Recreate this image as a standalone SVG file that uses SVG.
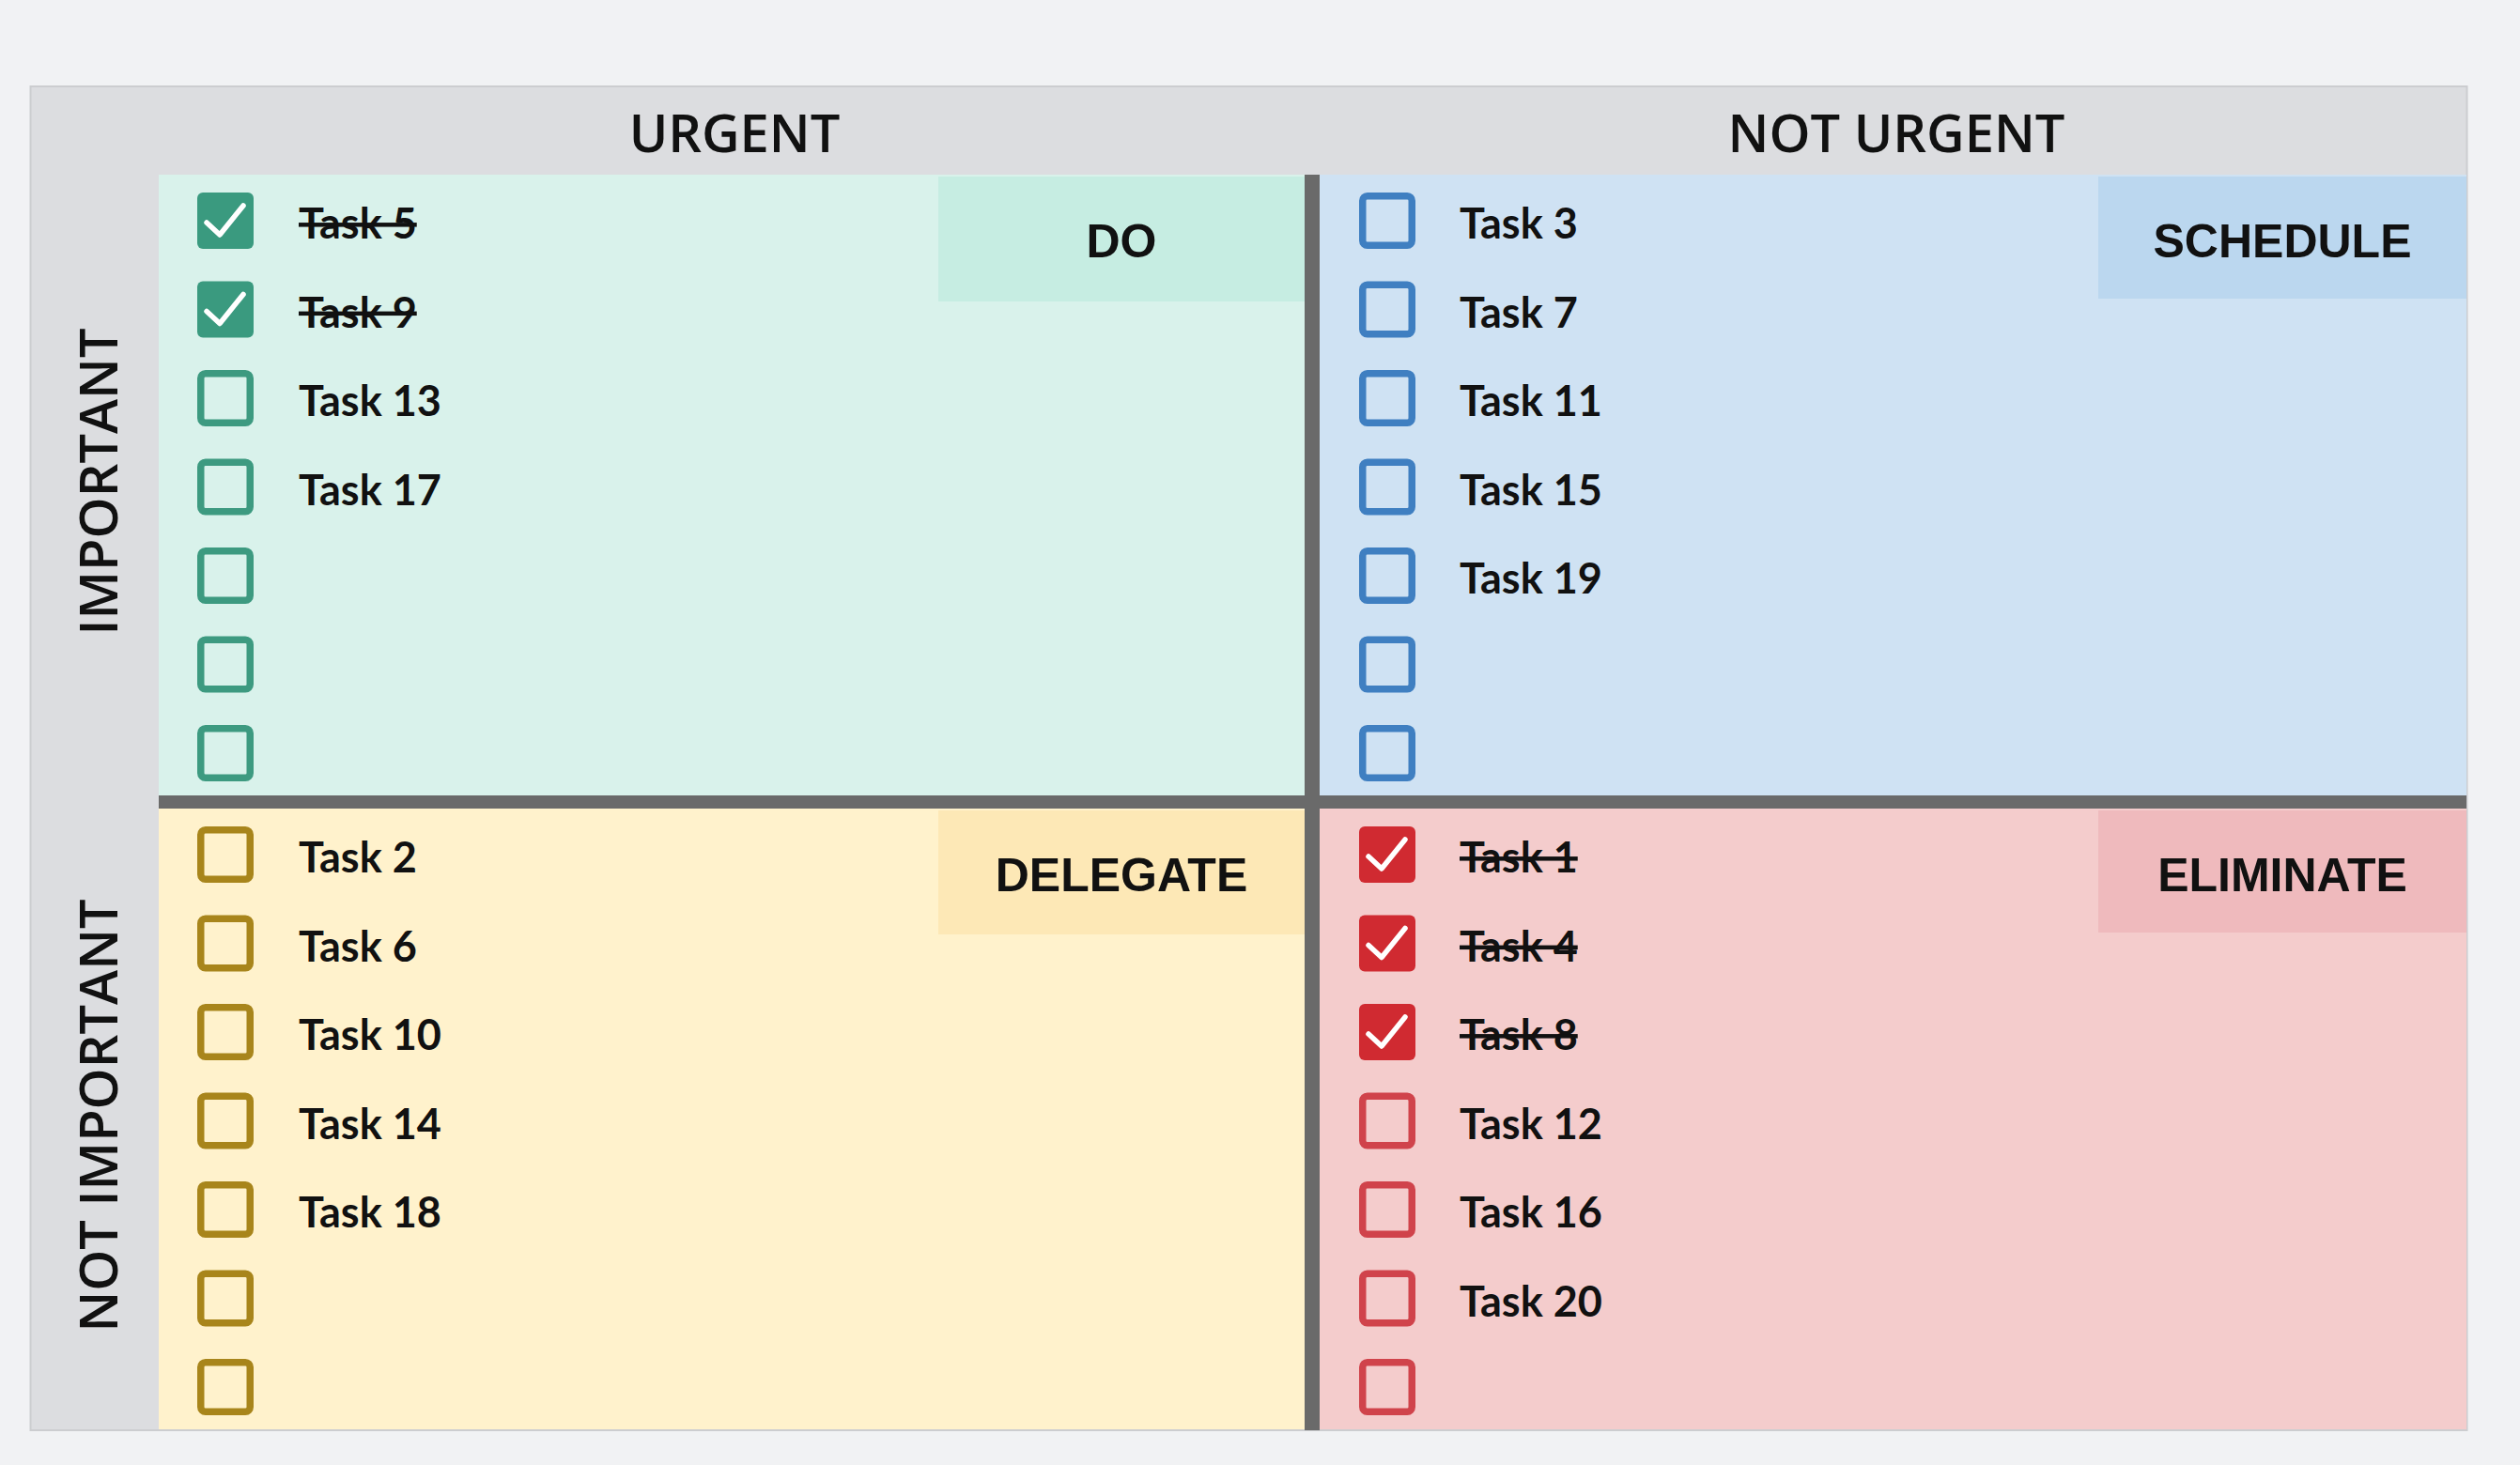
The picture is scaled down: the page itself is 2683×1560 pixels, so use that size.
<svg xmlns="http://www.w3.org/2000/svg" width="2683" height="1560" viewBox="0 0 2683 1560">
  <style>
    .hdr { font-family: "Open Sans", "Liberation Sans", sans-serif; font-weight: 600; font-size: 56px; fill: #111111; text-anchor: middle; }
    .lbl { font-family: "Liberation Sans", Arial, sans-serif; font-weight: 700; font-size: 50px; fill: #111111; text-anchor: middle; }
    .task { font-family: Lato, "Liberation Sans", sans-serif; font-weight: 700; font-size: 45px; fill: #111111; }
    .done { text-decoration: line-through; }
    .box { stroke-width: 7.5; }
    .g-box { fill: none; stroke: #3d9a80; }
    .b-box { fill: none; stroke: #3f7fc1; }
    .y-box { fill: none; stroke: #a8851b; }
    .r-box { fill: none; stroke: #d0434b; }
    .g-fill { fill: #3a9a7f; }
    .r-fill { fill: #d02a31; }
    .tick { fill: none; stroke: #ffffff; stroke-width: 5.5; stroke-linecap: round; stroke-linejoin: round; }
    .divider { fill: #6a6a6a; }
  </style>
  <defs>
    <rect id="ubox" x="3.75" y="3.75" width="52.5" height="52.5" rx="5" class="box"/>
    <g id="cbox">
      <rect x="0" y="0" width="60" height="60" rx="6"/>
      <path class="tick" d="M10 32 L24 45 L49 14"/>
    </g>
  </defs>

  <rect x="0" y="0" width="2683" height="1560" fill="#f1f2f4"/>

  <g id="frame">
    <rect x="32.5" y="92" width="2594" height="1431" fill="#dcdde0" stroke="#cccdd0" stroke-width="2"/>
  </g>

  <g id="headers">
    <text class="hdr" x="782" y="162">URGENT</text>
    <text class="hdr" x="2019" y="162">NOT URGENT</text>
    <text class="hdr" transform="translate(125 513) rotate(-90)" x="0" y="0">IMPORTANT</text>
    <text class="hdr" transform="translate(125 1188) rotate(-90)" x="0" y="0">NOT IMPORTANT</text>
  </g>

  <g id="quadrant-do">
    <rect x="169" y="186" width="1220" height="661" fill="#d9f2eb"/>
    <rect x="999" y="188" width="390" height="133" fill="#c6ede2"/>
    <text class="lbl" x="1194" y="274">DO</text>
    <use href="#cbox" x="210" y="205" class="g-fill"/>
    <text class="task done" x="318" y="254">Task 5</text>
    <use href="#cbox" x="210" y="299.5" class="g-fill"/>
    <text class="task done" x="318" y="348.5">Task 9</text>
    <use href="#ubox" x="210" y="394" class="g-box"/>
    <text class="task" x="318" y="443">Task 13</text>
    <use href="#ubox" x="210" y="488.5" class="g-box"/>
    <text class="task" x="318" y="537.5">Task 17</text>
    <use href="#ubox" x="210" y="583" class="g-box"/>
    <use href="#ubox" x="210" y="677.5" class="g-box"/>
    <use href="#ubox" x="210" y="772" class="g-box"/>
  </g>

  <g id="quadrant-schedule">
    <rect x="1405" y="186" width="1221" height="661" fill="#cfe2f3"/>
    <rect x="2234" y="188" width="392" height="130" fill="#bbd7ef"/>
    <text class="lbl" x="2430" y="274">SCHEDULE</text>
    <use href="#ubox" x="1447" y="205" class="b-box"/>
    <text class="task" x="1554" y="254">Task 3</text>
    <use href="#ubox" x="1447" y="299.5" class="b-box"/>
    <text class="task" x="1554" y="348.5">Task 7</text>
    <use href="#ubox" x="1447" y="394" class="b-box"/>
    <text class="task" x="1554" y="443">Task 11</text>
    <use href="#ubox" x="1447" y="488.5" class="b-box"/>
    <text class="task" x="1554" y="537.5">Task 15</text>
    <use href="#ubox" x="1447" y="583" class="b-box"/>
    <text class="task" x="1554" y="632">Task 19</text>
    <use href="#ubox" x="1447" y="677.5" class="b-box"/>
    <use href="#ubox" x="1447" y="772" class="b-box"/>
  </g>

  <g id="quadrant-delegate">
    <rect x="169" y="861" width="1220" height="661" fill="#fff2cc"/>
    <rect x="999" y="863" width="390" height="132" fill="#fde8b6"/>
    <text class="lbl" x="1194" y="949">DELEGATE</text>
    <use href="#ubox" x="210" y="880" class="y-box"/>
    <text class="task" x="318" y="929">Task 2</text>
    <use href="#ubox" x="210" y="974.5" class="y-box"/>
    <text class="task" x="318" y="1023.5">Task 6</text>
    <use href="#ubox" x="210" y="1069" class="y-box"/>
    <text class="task" x="318" y="1118">Task 10</text>
    <use href="#ubox" x="210" y="1163.5" class="y-box"/>
    <text class="task" x="318" y="1212.5">Task 14</text>
    <use href="#ubox" x="210" y="1258" class="y-box"/>
    <text class="task" x="318" y="1307">Task 18</text>
    <use href="#ubox" x="210" y="1352.5" class="y-box"/>
    <use href="#ubox" x="210" y="1447" class="y-box"/>
  </g>

  <g id="quadrant-eliminate">
    <rect x="1405" y="861" width="1221" height="661" fill="#f4cccc"/>
    <rect x="2234" y="863" width="392" height="130" fill="#efbabd"/>
    <text class="lbl" x="2430" y="949">ELIMINATE</text>
    <use href="#cbox" x="1447" y="880" class="r-fill"/>
    <text class="task done" x="1554" y="929">Task 1</text>
    <use href="#cbox" x="1447" y="974.5" class="r-fill"/>
    <text class="task done" x="1554" y="1023.5">Task 4</text>
    <use href="#cbox" x="1447" y="1069" class="r-fill"/>
    <text class="task done" x="1554" y="1118">Task 8</text>
    <use href="#ubox" x="1447" y="1163.5" class="r-box"/>
    <text class="task" x="1554" y="1212.5">Task 12</text>
    <use href="#ubox" x="1447" y="1258" class="r-box"/>
    <text class="task" x="1554" y="1307">Task 16</text>
    <use href="#ubox" x="1447" y="1352.5" class="r-box"/>
    <text class="task" x="1554" y="1401.5">Task 20</text>
    <use href="#ubox" x="1447" y="1447" class="r-box"/>
  </g>

  <g id="connectors">
    <rect class="divider" x="1389" y="186" width="16" height="1337"/>
    <rect class="divider" x="169" y="847" width="2457" height="14"/>
  </g>
</svg>
